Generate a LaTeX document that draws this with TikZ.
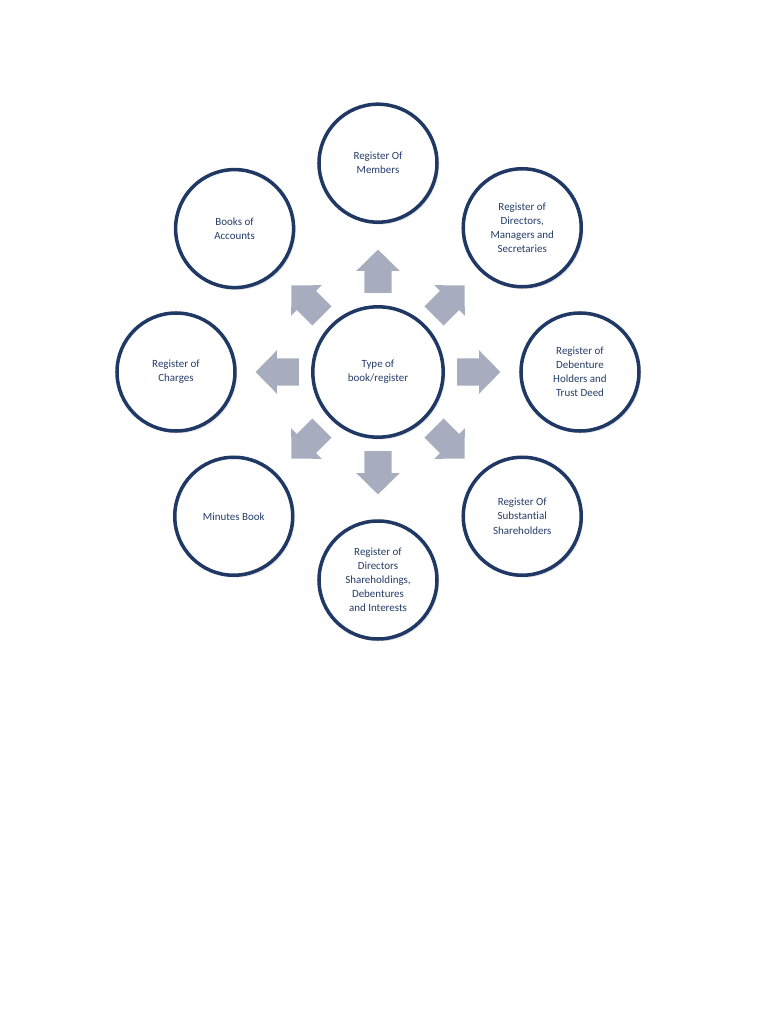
\documentclass[tikz,border=0pt]{standalone}
\usepackage{fontspec}
\setmainfont{Carlito}[Ligatures=NoCommon]
\usepackage{tikz}
\usetikzlibrary{positioning, shadows}
\definecolor{navy}{RGB}{31,56,100}
\definecolor{inkblue}{RGB}{38,62,106}
\definecolor{arrowgray}{RGB}{167,173,190}
\newcommand{\blockarrow}[1]{\fill[arrowgray, shift={(#1:2.52)}, rotate=#1] (-0.54,-0.34) -- (0.01,-0.34) -- (0.01,-0.54) -- (0.54,0) -- (0.01,0.54) -- (0.01,0.34) -- (-0.54,0.34) -- cycle;}

\begin{document}
\begin{tikzpicture}[
  ring/.style={circle, draw=navy, line width=2.5pt, fill=white, minimum size=2.95cm, inner sep=0pt,
    align=center, text=inkblue, font=\fontsize{7.8}{10}\selectfont,
    drop shadow={opacity=0.18, shadow xshift=0.05cm, shadow yshift=-0.06cm}},
  hub/.style={ring, minimum size=3.26cm}]
\useasboundingbox (-9.45,9.3) rectangle (9.75,-16.3);
% Centre
\node[hub] (type) at (0,0) {Type of\\book/register};
% Registers round the centre
\node[ring] (members) at (90:5.22) {Register Of\\Members};
\node[ring] (directors) at (45:5.1) {Register of\\Directors,\\Managers and\\Secretaries};
\node[ring] (debenture) at (0:5.05) {Register of\\Debenture\\Holders and\\Trust Deed};
\node[ring] (substantial) at (-45:5.1) {Register Of\\Substantial\\Shareholders};
\node[ring] (holdings) at (-90:5.2) {Register of\\Directors\\Shareholdings,\\Debentures\\and Interests};
\node[ring] (minutes) at (-135:5.1) {Minutes Book};
\node[ring] (charges) at (180:5.05) {Register of\\Charges};
\node[ring] (accounts) at (135:5.07) {Books of\\Accounts};
% Block arrows
\foreach \a in {0,45,...,315} {\blockarrow{\a}}
\end{tikzpicture}
\end{document}
